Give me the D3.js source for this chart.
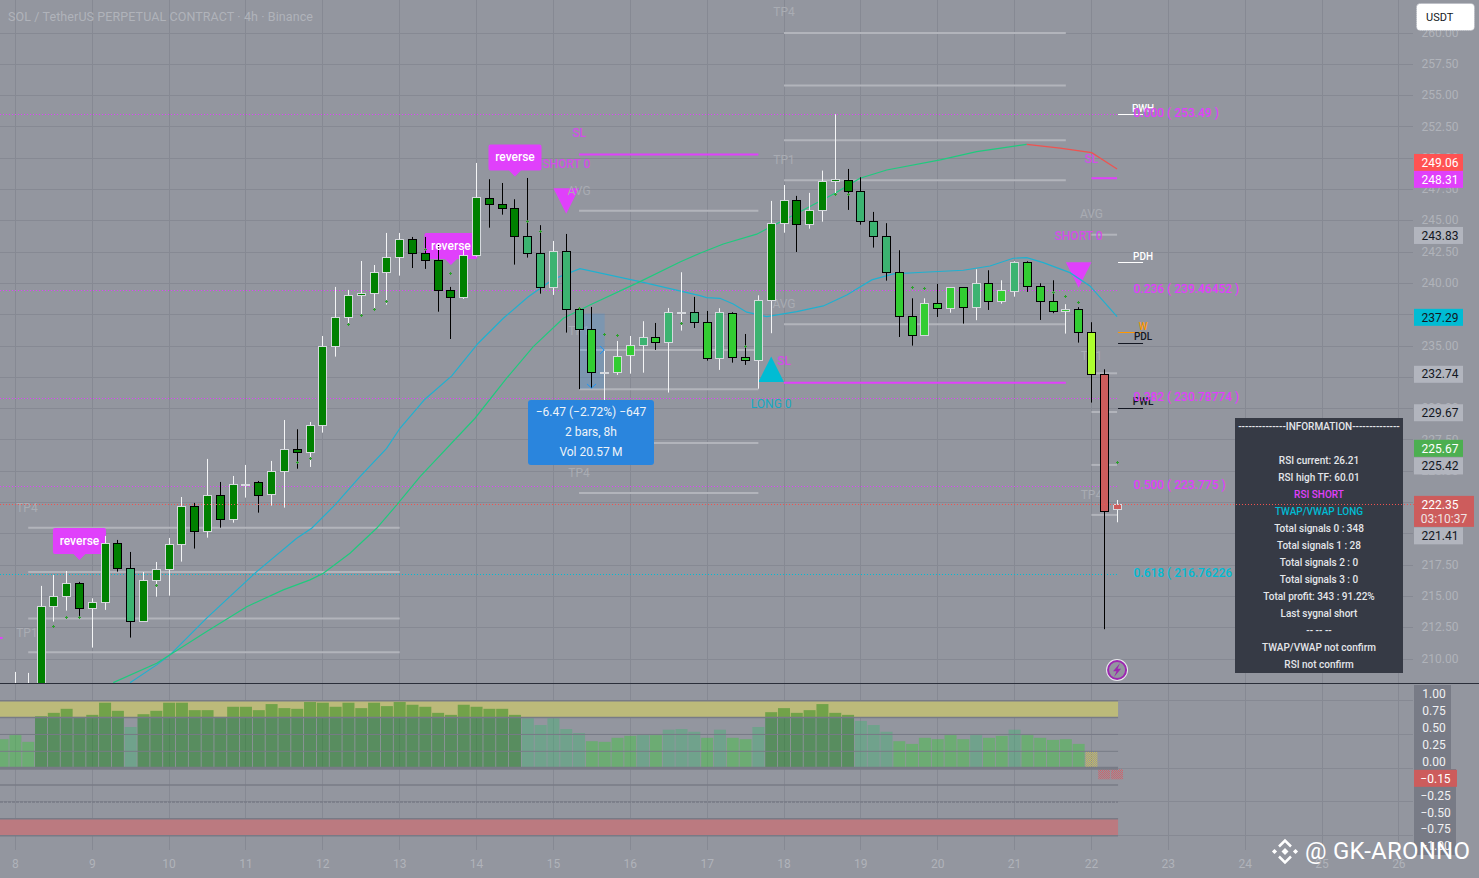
<!DOCTYPE html>
<html>
<head>
<meta charset="utf-8">
<script src="https://cdn.jsdelivr.net/npm/d3@7"></script>
<style>
  html, body { margin: 0; padding: 0; background: #93969f; overflow: hidden; }
  svg { display: block; font-family: Roboto, sans-serif; }
</style>
</head>
<body>
<svg width="1479" height="878"></svg>
<script>
var svg = d3.select('svg');

// candles, first entry is bar -1 (bar 0 = the 8th at 00:00)
var firstBar = -1;
var open = [206.5,207.0,207.2,207.5,214.09,214.92,215.96,213.93,214.44,219.16,217.13,212.90,216.20,217.08,219.08,222.11,220.08,222.99,221.07,223.80,224.03,223.07,224.91,226.66,226.43,228.58,234.86,237.21,238.93,239.12,240.77,242.00,243.44,242.32,241.76,239.36,238.80,242.16,246.71,246.23,245.91,243.68,242.32,239.60,242.48,237.81,236.22,232.80,232.81,234.17,234.97,235.61,235.21,237.60,237.61,236.81,233.93,237.53,234.01,233.77,238.57,244.72,246.55,244.64,245.75,248.07,248.15,247.24,244.87,243.68,240.80,237.29,235.77,238.33,237.93,239.60,238.01,239.92,238.49,239.28,241.60,239.68,238.49,237.69,237.85,236.01,232.65,221.79];
var high = [207.5,208.88,208.80,215.75,216.62,216.94,216.07,214.76,219.74,219.42,218.46,216.86,217.66,219.58,222.85,222.38,225.89,224.05,224.53,225.41,224.13,225.73,229.00,228.26,228.84,235.71,239.63,239.39,241.70,241.38,243.94,243.94,243.62,243.62,242.98,239.63,242.58,249.53,248.23,247.93,246.63,248.33,244.56,243.30,243.86,237.95,238.03,234.52,235.31,235.71,236.89,236.75,237.95,240.80,238.83,237.71,237.93,237.61,235.87,238.96,246.50,247.77,246.90,247.14,248.92,253.42,249.05,248.39,245.62,244.72,242.56,238.72,238.72,239.87,239.60,239.60,241.04,240.96,240.16,241.68,241.68,239.92,240.16,238.25,238.01,236.81,233.05,222.61];
var low = [206.0,206.8,206.9,207.2,212.90,213.77,213.35,210.82,213.83,216.89,211.62,212.90,214.89,214.97,217.69,218.73,219.60,220.40,220.80,222.80,221.60,222.16,222.00,225.11,225.25,227.99,234.06,236.59,237.31,237.73,238.21,240.53,241.14,241.07,237.65,235.47,238.67,242.05,244.36,245.40,241.41,241.97,239.09,238.99,235.98,231.46,231.56,230.04,232.60,232.70,232.78,234.60,231.19,236.14,236.35,233.74,233.00,233.58,233.40,231.50,235.93,243.96,242.42,244.28,244.84,247.11,245.78,244.60,242.77,240.13,235.63,234.94,235.77,237.23,237.57,236.70,236.97,237.79,238.29,238.85,239.23,236.99,237.53,235.90,235.18,230.39,212.29,220.83];
var close = [207.0,207.2,207.5,214.09,214.92,215.96,213.93,214.44,219.16,217.13,212.90,216.20,217.08,219.08,222.11,220.08,222.99,221.07,223.84,223.84,222.96,224.91,226.66,226.43,228.58,234.86,237.21,238.93,239.12,240.77,242.00,243.44,242.32,241.76,239.36,238.80,242.16,246.79,246.23,245.91,243.68,242.32,239.60,242.48,237.81,236.22,232.81,232.82,234.06,234.97,235.61,235.21,237.61,237.62,236.81,233.93,237.61,234.01,233.77,238.57,244.72,246.55,244.64,245.75,248.07,248.23,247.24,244.87,243.68,240.80,237.29,235.77,238.33,237.93,239.60,238.01,239.92,238.49,239.36,241.60,239.68,238.49,237.69,237.85,236.01,232.65,221.68,222.22];
// fill class of each candle, also colours the histogram bar below it
var kinds = ('LLL' + 'DDDDDDD' + 'S' + 'DDDDDDDDDDDDDDDDDDDDDDDDDDDDDD' + 'SSSSS' + 'LLLL' + 'S' + 'L' + 'SSS' + 'L' + 'S' + 'LL' + 'S' + 'DDDDDDD' + 'SSS' + 'LLLLLL' + 'S' + 'LL' + 'S' + 'LLLLL' + 'Y' + 'RR').split('');
var kindColors = { D: '#008000', S: '#3cb371', L: '#32cd32', Y: '#adff2f', R: '#cd5c5c' };

// averages, read as bar / price pairs
var blueBars = [8.95,11.03,12.07,14.93,18.84,21.96,23.13,24.95,26.9,28.98,30.02,31.97,34.06,36.13,38.09,40.04,41.99,44.07,48.76,53.44,53.96,55,56.04,57.09,58.65,60.99,63.07,64.9,66.85,68.53,70.88,74,76.08,77.9,78.95,80.24,82.32,83.88,86];
var blueVals = [208.02,209.44,210.24,213.17,216.89,219.56,220.35,222.22,224.48,226.74,228.34,230.66,232.52,235.13,237.13,238.85,240.24,241.09,240.05,238.93,238.77,238.72,238.27,237.61,237.26,237.65,238.11,238.99,240.19,240.67,240.80,240.96,241.30,241.92,241.97,241.57,240.77,239.71,237.26];
var greenBars = [7.64,11.03,14.93,18.06,20.91,23,24.04,26.12,28.2,29.77,31.59,35.88,38.35,40.43,42.77,44.85,48.76,51.88,53.44,55.26,57.87,61.25,63.98,65.93,68.02,72.2,75.04,78.95];
var greenVals = [208.02,209.57,212.10,214.09,215.43,216.23,216.76,218.36,220.35,222.22,224.48,229.14,232.34,234.86,237.13,238.19,240.05,241.62,242.32,243.06,243.84,245.64,247.11,248.31,248.97,249.77,250.43,251.02];
var redBars = [78.95,81.55,84.02,86];
var redVals = [251.02,250.71,250.35,249.05];

// target levels
var tpStart = [1,1,1,1, 44,44,44,44,44, 60,60,60,60,60, 84,84,84,84,84];
var tpEnd = [30,30,30,30, 58,58,58,58,58, 82,82,82,82,82, 86,86,86,86,86];
var tpVals = [220.40,216.86,213.14,210.45, 245.72,234.60,231.46,227.17,223.17, 259.91,255.72,251.34,248.15,236.65, 243.80,232.73,229.64,225.41,221.42];
var slStart = [-1.5,44,60,84];
var slEnd = [-1,58,82,86];
var slVals = [211.59,250.21,231.98,248.31];

// level labels
var labelText = ['TP4','TP1','AVG','TP1','TP4','TP4','TP1','AVG','AVG','TP1','TP4'];
var labelBars = [0.9,0.9,44,44,44,60,60,60,84,84,84];
var labelVals = [222.0,212.0,247.3,236.1,224.8,261.6,249.8,238.3,245.5,234.1,223.0];
var magLabelText = ['SL','SHORT 0','SL','SL','SHORT 0'];
var magLabelBars = [44,43,60,84,83];
var magLabelVals = [251.9,249.5,233.7,249.9,243.7];
var longLabel = 'LONG 0';
var longBar = 59;
var longVal = 230.28;

// fib levels
var fibVals = [253.49,239.46452,230.78774,223.775,216.76226];
var fibText = ['0.000 ( 253.49 )','0.236 ( 239.46452 )','0.382 ( 230.78774 )','0.500 ( 223.775 )','0.618 ( 216.76226 )'];
var fibColors = ['#e040fb','#e040fb','#e040fb','#e040fb','#00bcd4'];

// previous high / low tags
var tagText = ['PWH','PDH','W','PDL','PWL'];
var tagVals = [253.49,241.65,236.07,235.20,230.03];
var tagColors = ['#ffffff','#ffffff','#ff9800','#131722','#131722'];

// small signal marks
var markBars = [3,4,5,11,22,23,26,27,28,29,32,34,40,41,44,46,47,52,57,64,65,70,71,81,82,83,86];
var markVals = [212.47,213.19,213.19,215.75,225.57,225.89,236.59,237.31,237.79,238.45,242.58,240.72,244.84,244.04,237.93,235.85,235.71,236.73,234.86,247.03,247.03,239.57,239.52,239.20,238.85,238.41,225.59];

// reverse callouts and triangles
var reverseBars = [5,34,39];
var reverseVals = [217.82,241.38,248.44];
var triDownBars = [43,83];
var triDownVals = [247.51,241.60];
var triUpBars = [59];
var triUpVals = [232.04];

// axes
var priceTicks = [260,257.5,255,252.5,250,247.5,245,242.5,240,237.5,235,232.5,230,227.5,225,222.5,220,217.5,215,212.5,210];
var dayLabels = ['8','9','10','11','12','13','14','15','16','17','18','19','20','21','22','23','24','25','26'];
var oscTicks = [1,0.75,0.5,0.25,0,-0.25,-0.5,-0.75,-1];

// price badges on the right
var badgeVals = [249.06,248.31,243.83,237.29,232.74,229.67,225.67,225.42,221.41];
var badgeFill = ['#ff5252','#e040fb','#b2b5be','#00bcd4','#b2b5be','#b2b5be','#4caf50','#b2b5be','#b2b5be'];
var badgeInk = ['#ffffff','#ffffff','#131722','#131722','#131722','#131722','#ffffff','#131722','#131722'];
var badgeNudge = [-7.5,0,0,0,0,0,-14.5,0,19.7];
var lastPrice = 222.35;
var countdown = '03:10:37';

// info table
var infoLines = ['--------------INFORMATION--------------','','RSI current: 26.21','RSI high TF: 60.01','RSI SHORT','TWAP/VWAP LONG','Total signals 0 : 348','Total signals 1 : 28','Total signals 2 : 0','Total signals 3 : 0','Total profit: 343 : 91.22%','Last sygnal short','-- -- --','TWAP/VWAP not confirm','RSI not confirm'];
var infoColors = { 'RSI SHORT': '#e040fb', 'TWAP/VWAP LONG': '#00bcd4' };

// oscillator histogram, one value per candle
var oscVals = [0.43,0.49,0.39,0.77,0.82,0.88,0.76,0.79,0.97,0.85,0.61,0.80,0.85,0.97,0.97,0.86,0.86,0.76,0.91,0.91,0.86,0.95,0.89,0.88,0.98,0.97,0.91,0.97,0.89,0.97,0.92,0.98,0.94,0.91,0.82,0.79,0.94,0.91,0.88,0.88,0.79,0.74,0.64,0.74,0.58,0.52,0.40,0.39,0.45,0.48,0.49,0.49,0.57,0.58,0.54,0.45,0.57,0.45,0.43,0.61,0.83,0.89,0.82,0.86,0.95,0.82,0.79,0.70,0.64,0.54,0.40,0.36,0.45,0.43,0.49,0.43,0.49,0.45,0.48,0.57,0.49,0.45,0.42,0.43,0.36,0.24,-0.15,-0.15];
var oscLast = -0.15;

var paneBottom = 683;
var plotRight = 1413;
var bgColor = '#93969f';
var gridColor = '#868993';
var axisInk = '#b0b3ba';

var x = d3.scaleLinear().domain([0, 6]).range([15.4, 92.26]);
var y = d3.scaleLinear().domain([262.5, 210]).range([1.7, 659]);
var yOsc = d3.scaleLinear().domain([1, -1]).range([700.7, 835.7]);
var xEnd = x(86) + 1;

// values above were read a hair low, this puts them back on the pixel
function py(v) { return y(v + 0.09); }
function crisp(v) { return Math.floor(v) + 0.5; }

svg.append('rect').attr('width', 1479).attr('height', 878).attr('fill', bgColor);

var defs = svg.append('defs');
defs.append('clipPath').attr('id', 'pane').append('rect')
    .attr('width', plotRight + 10).attr('height', paneBottom);
[['dotY', '#c9bd5a'], ['dotR', '#d0626a']].forEach(function(p) {
    var pat = defs.append('pattern').attr('id', p[0])
        .attr('width', 2).attr('height', 2).attr('patternUnits', 'userSpaceOnUse');
    pat.append('rect').attr('width', 1).attr('height', 1).attr('fill', p[1]);
    pat.append('rect').attr('x', 1).attr('y', 1).attr('width', 1).attr('height', 1).attr('fill', p[1]);
});

// grid
var dayBars = dayLabels.map(function(d, i) { return i * 6; });
var grid = svg.append('g').attr('stroke', gridColor).attr('stroke-width', 1);
grid.selectAll('.v').data(dayBars).enter().append('line')
    .attr('x1', function(d) { return crisp(x(d)); })
    .attr('x2', function(d) { return crisp(x(d)); })
    .attr('y1', 0).attr('y2', 850);
grid.selectAll('.h').data(priceTicks).enter().append('line')
    .attr('x1', 0).attr('x2', plotRight)
    .attr('y1', function(d) { return crisp(y(d)); })
    .attr('y2', function(d) { return crisp(y(d)); });
grid.selectAll('.o').data([1, 0.5, 0, -0.5, -1]).enter().append('line')
    .attr('x1', 0).attr('x2', plotRight)
    .attr('y1', function(d) { return crisp(yOsc(d)); })
    .attr('y2', function(d) { return crisp(yOsc(d)); });

var main = svg.append('g').attr('clip-path', 'url(#pane)');

// fib dotted lines
main.selectAll('.fib').data(fibVals).enter().append('line')
    .attr('x1', 0).attr('x2', xEnd)
    .attr('y1', function(d) { return crisp(y(d)); })
    .attr('y2', function(d) { return crisp(y(d)); })
    .attr('stroke', function(d, i) { return fibColors[i]; })
    .attr('stroke-dasharray', '1 2');

// tp / sl levels
main.selectAll('.tp').data(tpVals).enter().append('line')
    .attr('x1', function(d, i) { return x(tpStart[i]); })
    .attr('x2', function(d, i) { return x(tpEnd[i]); })
    .attr('y1', py).attr('y2', py)
    .attr('stroke', '#b2b4bb').attr('stroke-width', 2);
main.selectAll('.sl').data(slVals).enter().append('line')
    .attr('x1', function(d, i) { return x(slStart[i]); })
    .attr('x2', function(d, i) { return x(slEnd[i]); })
    .attr('y1', py).attr('y2', py)
    .attr('stroke', '#e040fb').attr('stroke-width', 2);

// triangles
function triPath(cx, baseY, dir) {
    return 'M' + (cx - 12.8) + ',' + baseY + 'L' + (cx + 12.8) + ',' + baseY + 'L' + cx + ',' + (baseY + dir * 25.5) + 'Z';
}
main.selectAll('.tdown').data(triDownBars).enter().append('path')
    .attr('d', function(d, i) { return triPath(x(d), py(triDownVals[i]), 1); })
    .attr('fill', '#e040fb');
main.selectAll('.tup').data(triUpBars).enter().append('path')
    .attr('d', function(d, i) { return triPath(x(d), py(triUpVals[i]), -1); })
    .attr('fill', '#00bcd4');

// level labels
main.selectAll('.lbl').data(labelText).enter().append('text')
    .attr('x', function(d, i) { return x(labelBars[i]); })
    .attr('y', function(d, i) { return py(labelVals[i]); })
    .attr('text-anchor', 'middle').attr('dy', '0.35em')
    .attr('font-size', 12).attr('fill', '#a9acb3').text(function(d) { return d; });
main.selectAll('.mag').data(magLabelText).enter().append('text')
    .attr('x', function(d, i) { return x(magLabelBars[i]); })
    .attr('y', function(d, i) { return py(magLabelVals[i]); })
    .attr('text-anchor', 'middle').attr('dy', '0.35em')
    .attr('font-size', 12).attr('font-weight', 500).attr('fill', '#d24fe8').text(function(d) { return d; });
main.append('text').attr('x', x(longBar)).attr('y', py(longVal))
    .attr('text-anchor', 'middle').attr('dy', '0.35em')
    .attr('font-size', 12).attr('fill', '#17a9c4').text(longLabel);

// averages
var lineGen = d3.line()
    .x(function(d) { return x(d[0]); })
    .y(function(d) { return py(d[1]); });
[[blueBars, blueVals, '#1fb1d0'], [greenBars, greenVals, '#1fca7e'], [redBars, redVals, '#ef5350']].forEach(function(s) {
    main.append('path').datum(d3.zip(s[0], s[1]))
        .attr('d', lineGen).attr('fill', 'none')
        .attr('stroke', s[2]).attr('stroke-width', 1.2);
});

// measure box under the candles
var measureX = x(44);
main.append('rect').attr('x', measureX).attr('width', x(46) - measureX)
    .attr('y', py(237.5)).attr('height', py(231.5) - py(237.5))
    .attr('fill', '#2196f3').attr('opacity', 0.2);

// reverse callouts
function calloutPath(cx, tipY, top, w) {
    var bottom = tipY - 6;
    var h = d3.path();
    h.moveTo(cx - w / 2 + 2, top);
    h.lineTo(cx + w / 2 - 2, top);
    h.quadraticCurveTo(cx + w / 2, top, cx + w / 2, top + 2);
    h.lineTo(cx + w / 2, bottom - 2);
    h.quadraticCurveTo(cx + w / 2, bottom, cx + w / 2 - 2, bottom);
    h.lineTo(cx + 6, bottom);
    h.lineTo(cx, tipY);
    h.lineTo(cx - 6, bottom);
    h.lineTo(cx - w / 2 + 2, bottom);
    h.quadraticCurveTo(cx - w / 2, bottom, cx - w / 2, bottom - 2);
    h.lineTo(cx - w / 2, top + 2);
    h.quadraticCurveTo(cx - w / 2, top, cx - w / 2 + 2, top);
    h.closePath();
    return h.toString();
}
main.selectAll('.rev').data(reverseBars).enter().append('path')
    .attr('d', function(d, i) {
        var tip = py(reverseVals[i]);
        return calloutPath(x(d), tip, tip - 32, 53);
    })
    .attr('fill', '#e040fb');

// candles
var candles = open.map(function(o, i) {
    return { bar: i + firstBar, o: o, h: high[i], l: low[i], c: close[i], kind: kinds[i] };
});
var candle = main.selectAll('.candle').data(candles).enter().append('g');
function inkOf(d) { return d.c >= d.o ? '#d5d8dd' : '#000000'; }
candle.append('line')
    .attr('x1', function(d) { return crisp(x(d.bar)); })
    .attr('x2', function(d) { return crisp(x(d.bar)); })
    .attr('y1', function(d) { return py(d.h); })
    .attr('y2', function(d) { return py(d.l); })
    .attr('stroke', function(d) { return d.c >= d.o ? '#f4f5f6' : '#000000'; });
candle.append('rect')
    .attr('x', function(d) { return crisp(x(d.bar)) - 4; })
    .attr('width', 8)
    .attr('y', function(d) { return crisp(py(Math.max(d.o, d.c))); })
    .attr('height', function(d) { return Math.max(1, Math.round(Math.abs(py(d.o) - py(d.c)))); })
    .attr('fill', function(d) { return kindColors[d.kind]; })
    .attr('stroke', inkOf);

// measure arrows
main.append('path').attr('d', 'M' + (measureX + 21) + ',346L' + (measureX + 25) + ',350L' + (measureX + 21) + ',354')
    .attr('fill', 'none').attr('stroke', '#2196f3');
main.append('path').attr('d', 'M' + (measureX + 8) + ',384L' + (measureX + 12.5) + ',388L' + (measureX + 17) + ',384')
    .attr('fill', 'none').attr('stroke', '#2196f3');

// signal marks
main.selectAll('.mark').data(markVals).enter().append('path')
    .attr('d', function(d, i) {
        var cx = crisp(x(markBars[i])), cy = crisp(py(d));
        return 'M' + (cx - 1.5) + ',' + cy + 'H' + (cx + 1.5) + 'M' + cx + ',' + (cy - 1.5) + 'V' + (cy + 1.5);
    })
    .attr('stroke', '#2ca02c').attr('fill', 'none');

// callout text goes over the candles
main.selectAll('.revtext').data(reverseBars).enter().append('text')
    .attr('x', function(d) { return x(d); })
    .attr('y', function(d, i) { return py(reverseVals[i]) - 19.5; })
    .attr('text-anchor', 'middle').attr('dy', '0.35em')
    .attr('font-size', 12).attr('font-weight', 500).attr('fill', '#ffffff')
    .text('reverse');

// high / low tags
main.selectAll('.tagline').data(tagVals).enter().append('line')
    .attr('x1', xEnd).attr('x2', xEnd + 25)
    .attr('y1', function(d) { return crisp(y(d)); })
    .attr('y2', function(d) { return crisp(y(d)); })
    .attr('stroke', function(d, i) { return tagColors[i]; });
main.selectAll('.tagtext').data(tagText).enter().append('text')
    .attr('x', xEnd + 25).attr('y', function(d, i) { return y(tagVals[i]) - 6.5; })
    .attr('text-anchor', 'middle').attr('dy', '0.35em')
    .attr('font-size', 10).attr('font-weight', 500).attr('fill', function(d, i) { return tagColors[i]; })
    .text(function(d) { return d; });

// fib labels
main.selectAll('.fibtext').data(fibText).enter().append('text')
    .attr('x', 1133.5).attr('y', function(d, i) { return y(fibVals[i]) - 1.5; })
    .attr('dy', '0.35em').attr('font-size', 12).attr('font-weight', 500)
    .attr('fill', function(d, i) { return fibColors[i]; })
    .text(function(d) { return d; });

// lightning badge
var bolt = svg.append('g').attr('transform', 'translate(' + x(86) + ',670)');
bolt.append('circle').attr('r', 11).attr('fill', '#e8e9ed');
bolt.append('circle').attr('r', 9).attr('fill', bgColor).attr('stroke', '#9c27b0').attr('stroke-width', 2);
bolt.append('path').attr('d', 'M3,-7L-4,1.2H-0.5L-3,7L4,-1.2H0.5Z').attr('fill', '#9c27b0');

// title
svg.append('text').attr('x', 8).attr('y', 16.5).attr('dy', '0.35em')
    .attr('font-size', 12.5).attr('fill', '#b0b3ba').attr('textLength', 305)
    .text('SOL / TetherUS PERPETUAL CONTRACT \u00b7 4h \u00b7 Binance');

// measure tooltip
var tipBox = svg.append('g').attr('transform', 'translate(528,400)');
tipBox.append('rect').attr('width', 126).attr('height', 65).attr('rx', 3).attr('fill', '#2a85dd');
tipBox.selectAll('text').data(['\u22126.47 (\u22122.72%) \u2212647', '2 bars, 8h', 'Vol 20.57\u2009M']).enter().append('text')
    .attr('x', 63).attr('y', function(d, i) { return 12 + i * 20; })
    .attr('text-anchor', 'middle').attr('dy', '0.35em')
    .attr('font-size', 12).attr('fill', '#eef3f8')
    .text(function(d) { return d; });

// oscillator pane
svg.append('line').attr('x1', 0).attr('x2', 1479).attr('y1', paneBottom + 0.5).attr('y2', paneBottom + 0.5)
    .attr('stroke', '#2a2e39');
svg.append('rect').attr('x', 0).attr('width', xEnd).attr('y', yOsc(1)).attr('height', yOsc(0.75) - yOsc(1)).attr('fill', '#bcba7a');
svg.append('rect').attr('x', 0).attr('width', xEnd).attr('y', yOsc(-0.75)).attr('height', yOsc(-1) - yOsc(-0.75)).attr('fill', '#bb7a80');

function barFill(d, i) {
    if (kinds[i] == 'Y') return 'url(#dotY)';
    if (kinds[i] == 'R') return 'url(#dotR)';
    return kindColors[kinds[i]];
}
svg.append('g').selectAll('rect').data(oscVals).enter().append('rect')
    .attr('x', function(d, i) { return Math.max(0, x(i + firstBar) - 6); })
    .attr('width', function(d, i) { return x(i + firstBar) - 6 < 0 ? x(i + firstBar) + 6 : 12; })
    .attr('y', function(d) { return d >= 0 ? yOsc(d) : yOsc(0) + 1; })
    .attr('height', function(d) { return Math.abs(yOsc(d) - yOsc(0)); })
    .attr('fill', barFill)
    .attr('fill-opacity', function(d, i) { return kinds[i] == 'Y' || kinds[i] == 'R' ? 1 : 0.4; });

svg.append('g').selectAll('line').data(oscTicks).enter().append('line')
    .attr('x1', 0).attr('x2', xEnd)
    .attr('y1', function(d) { return yOsc(d); })
    .attr('y2', function(d) { return yOsc(d); })
    .attr('stroke', '#787b86')
    .attr('stroke-width', function(d) { return d == 0 ? 3 : (d == 0.25 || d == 0.5 ? 1 : 1.5); })
    .attr('stroke-dasharray', function(d) { return d == -0.5 ? '3 1' : null; });

// price axis
var priceAxis = d3.axisRight(y).tickValues(priceTicks).tickSize(0).tickPadding(0)
    .tickFormat(d3.format('.2f'));
var priceG = svg.append('g').attr('transform', 'translate(1440,-0.7)').call(priceAxis);
priceG.select('.domain').remove();
priceG.selectAll('text').attr('text-anchor', 'middle').attr('font-size', 12)
    .attr('font-family', 'Roboto, sans-serif').attr('fill', axisInk);

// time axis
var timeAxis = d3.axisBottom(x).tickValues(dayBars).tickSize(0).tickPadding(0)
    .tickFormat(function(d, i) { return dayLabels[i]; });
var timeG = svg.append('g').attr('transform', 'translate(-0.5,859)').call(timeAxis);
timeG.select('.domain').remove();
timeG.selectAll('text').attr('font-size', 12).attr('font-family', 'Roboto, sans-serif').attr('fill', axisInk);

// oscillator axis, the labels sit above their lines and open up below zero for the badge
svg.append('rect').attr('x', 1414).attr('y', 685).attr('width', 37).attr('height', 84).attr('fill', '#787b86');
svg.append('rect').attr('x', 1414).attr('y', 769).attr('width', 42).attr('height', 86).attr('fill', '#787b86');
var oscAxis = d3.axisRight(yOsc).tickValues(oscTicks).tickSize(0).tickPadding(0)
    .tickFormat(d3.format('.2f'));
var oscG = svg.append('g').attr('transform', 'translate(1434,-6.7)').call(oscAxis);
oscG.select('.domain').remove();
oscG.selectAll('text').attr('text-anchor', 'middle').attr('font-size', 12)
    .attr('font-family', 'Roboto, sans-serif').attr('fill', '#f0f1f3')
    .attr('x', function(d) { return d < 0 ? 1.5 : 0; })
    .attr('y', function(d) { return d < 0 ? 17 : 0; });
svg.append('rect').attr('x', 1414).attr('y', yOsc(oscLast) - 8.5).attr('width', 43).attr('height', 17).attr('fill', '#cd5c5c');
svg.append('text').attr('x', 1435.5).attr('y', yOsc(oscLast)).attr('dy', '0.35em')
    .attr('text-anchor', 'middle').attr('font-size', 12).attr('fill', '#ffffff')
    .text(d3.format('.2f')(oscLast));

// info table
var info = svg.append('g').attr('transform', 'translate(1235,418)');
info.append('rect').attr('width', 168).attr('height', 255).attr('fill', '#363a45');
info.selectAll('text').data(infoLines).enter().append('text')
    .attr('x', 84).attr('y', function(d, i) { return 8.7 + i * 17; })
    .attr('text-anchor', 'middle').attr('dy', '0.35em')
    .attr('font-size', 10).attr('font-weight', 500)
    .attr('fill', function(d) { return infoColors[d] || '#e4e6ea'; })
    .text(function(d) { return d; });

// last price line
svg.append('line').attr('x1', 0).attr('x2', 1414)
    .attr('y1', crisp(y(lastPrice))).attr('y2', crisp(y(lastPrice)))
    .attr('stroke', '#ef5350').attr('stroke-dasharray', '1 2');

// price badges
var badge = svg.append('g').selectAll('g').data(badgeVals).enter().append('g')
    .attr('transform', function(d, i) { return 'translate(1414,' + (y(d) + badgeNudge[i]) + ')'; });
badge.append('rect').attr('y', -8.5).attr('width', 49).attr('height', 17)
    .attr('fill', function(d, i) { return badgeFill[i]; });
badge.append('text').attr('x', 26).attr('dy', '0.35em').attr('text-anchor', 'middle')
    .attr('font-size', 12).attr('fill', function(d, i) { return badgeInk[i]; })
    .text(d3.format('.2f'));

var lastBadge = svg.append('g').attr('transform', 'translate(1414,' + y(lastPrice) + ')');
lastBadge.append('rect').attr('y', -8.5).attr('width', 60).attr('height', 31).attr('fill', '#cd5c5c');
lastBadge.append('text').attr('x', 26).attr('dy', '0.35em').attr('text-anchor', 'middle')
    .attr('font-size', 12).attr('fill', '#ffffff').text(d3.format('.2f')(lastPrice));
lastBadge.append('text').attr('x', 30).attr('y', 14).attr('dy', '0.35em').attr('text-anchor', 'middle')
    .attr('font-size', 12).attr('fill', '#f0e4e4').text(countdown);

// currency button
svg.append('rect').attr('x', 1416.5).attr('y', 3.5).attr('width', 58).attr('height', 27).attr('rx', 4)
    .attr('fill', '#ffffff').attr('stroke', '#b2b5be').attr('stroke-dasharray', '1 1');
svg.append('text').attr('x', 1426).attr('y', 17.5).attr('dy', '0.35em')
    .attr('font-size', 11).attr('fill', '#131722').text('USDT');

// watermark
var mark = svg.append('g').attr('transform', 'translate(1285,851.5)').attr('fill', '#ffffff');
[[0, 0, 3.5], [-10.5, 0, 2.6], [10.5, 0, 2.6]].forEach(function(m) {
    mark.append('path').attr('d', 'M' + (m[0] - m[2]) + ',' + m[1] + 'L' + m[0] + ',' + (m[1] - m[2]) + 'L' + (m[0] + m[2]) + ',' + m[1] + 'L' + m[0] + ',' + (m[1] + m[2]) + 'Z');
});
[1, -1].forEach(function(s) {
    mark.append('path').attr('d', 'M-6,' + (s * 5) + 'L0,' + (s * 11) + 'L6,' + (s * 5))
        .attr('fill', 'none').attr('stroke', '#ffffff').attr('stroke-width', 2.5);
});
svg.append('text').attr('x', 1305).attr('y', 851).attr('dy', '0.35em')
    .attr('font-size', 24).attr('fill', '#ffffff').attr('textLength', 165)
    .text('@ GK-ARONNO');
</script>
</body>
</html>
